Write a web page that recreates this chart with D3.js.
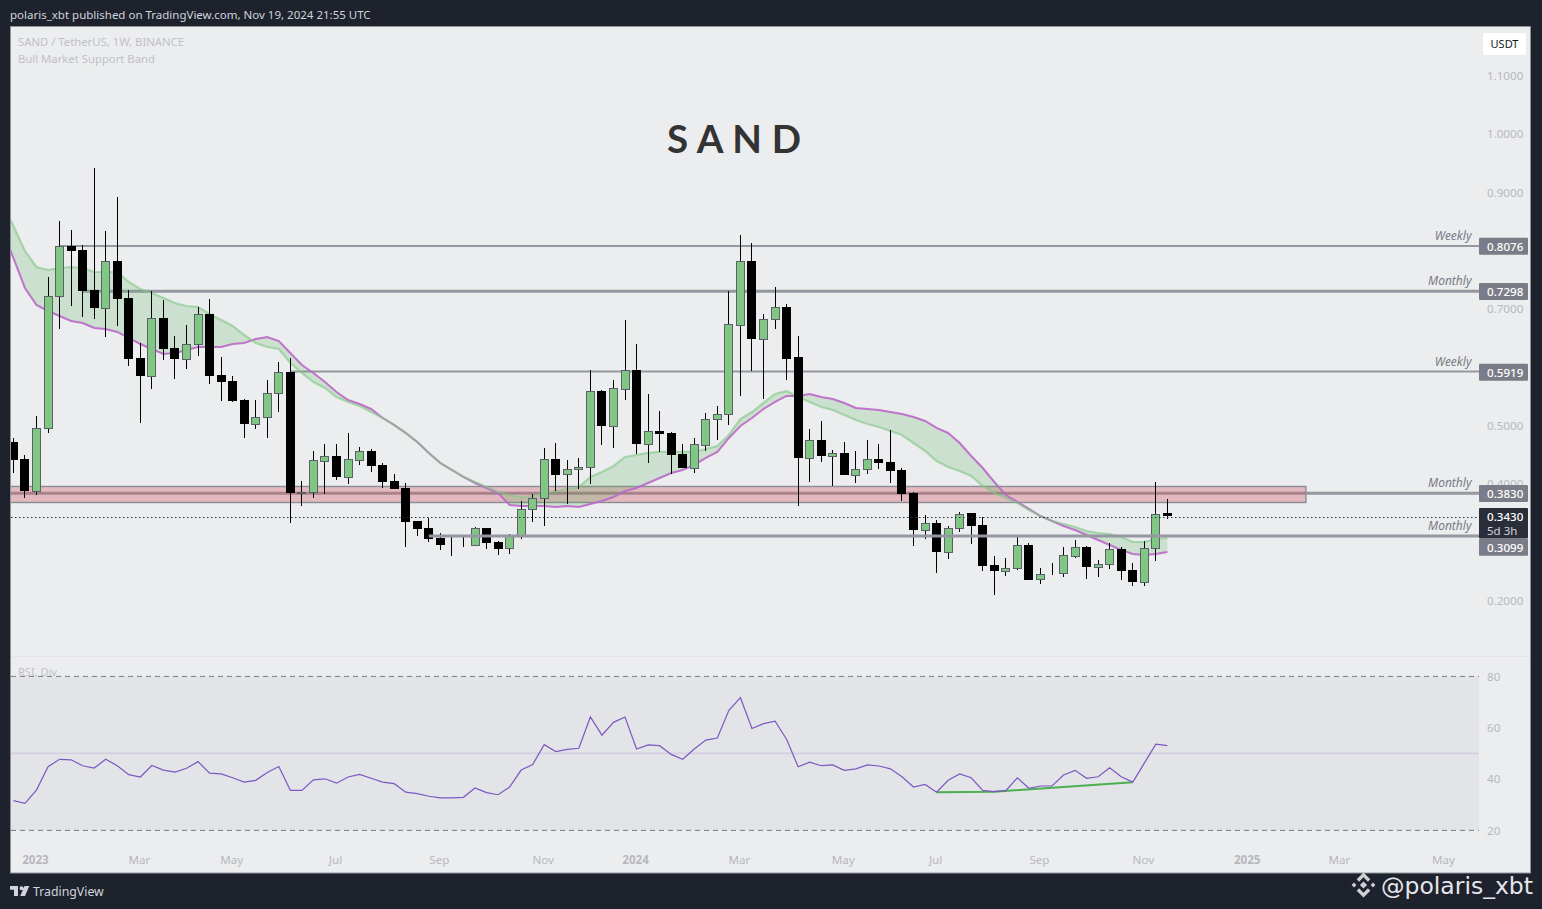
<!DOCTYPE html>
<html>
<head>
<meta charset="utf-8">
<title>SAND / TetherUS</title>
<script src="https://cdn.jsdelivr.net/npm/d3@7"></script>
<style>
  html, body { margin: 0; padding: 0; background: #1e222d; overflow: hidden; }
  svg { display: block; }
  text { font-family: "Noto Sans", sans-serif; }
</style>
</head>
<body>
<div id="chart"></div>
<script>
// weekly candles, SAND/USDT
const candleOpen = [.4711,.4420,.3870,.4952,.7217,.8075,.8006,.7320,.7011,.7817,
  .7182,.6153,.5844,.6839,.6324,.6136,.6393,.6908,.5861,.5758,
  .5432,.5020,.5140,.5552,.5912,.3836,.3853,.4385,.4471,.4111,
  .4402,.4557,.4317,.4042,.3922,.3356,.3236,.3064,.2961,.2961,
  .2944,.3236,.2995,.2892,.3098,.3562,.3750,.4420,.4162,.4248,
  .4282,.5586,.4986,.5621,.5947,.4677,.4900,.4866,.4505,.4265,
  .4660,.5106,.5192,.6719,.7817,.6479,.6822,.7028,.6170,.4437,
  .4746,.4471,.4523,.4145,.4248,.4420,.4368,.4231,.3836,.3201,
  .3321,.2824,.3236,.3493,.3287,.2601,.2498,.2549,.2944,.2360,
  .2463,.2463,.2755,.2909,.2566,.2618,.2875,.2515,.2309,.2892,
  .3493];
const candleClose = [.4402,.3870,.4952,.7217,.8075,.7989,.7302,.7011,.7817,.7165,
  .6136,.5844,.6839,.6307,.6136,.6393,.6908,.5844,.5741,.5415,
  .5020,.5140,.5552,.5912,.3836,.3853,.4402,.4471,.4111,.4420,
  .4557,.4299,.4025,.3905,.3338,.3218,.3047,.2944,.2961,.2961,
  .3236,.2978,.2875,.3098,.3562,.3750,.4420,.4145,.4248,.4282,
  .5586,.4986,.5638,.5947,.4677,.4900,.4849,.4488,.4265,.4677,
  .5106,.5192,.6736,.7817,.6479,.6822,.7028,.6136,.4437,.4746,
  .4471,.4523,.4145,.4248,.4420,.4351,.4214,.3819,.3201,.3321,
  .2824,.3236,.3476,.3270,.2583,.2498,.2549,.2944,.2343,.2446,
  .2463,.2772,.2909,.2566,.2618,.2875,.2498,.2309,.2892,.3476,
  .3441];
const candleHigh = [.4780,.4488,.5157,.7543,.8504,.8349,.8092,.9413,.8332,.8915,
  .7320,.6410,.7302,.7148,.6530,.6719,.7028,.7165,.6170,.5844,
  .5449,.5432,.5775,.6084,.6153,.4042,.4557,.4677,.4677,.4866,
  .4625,.4591,.4351,.4162,.4008,.3356,.3407,.3150,.3115,.3081,
  .3253,.3236,.3012,.3133,.3699,.3819,.4608,.4694,.4402,.4437,
  .5947,.5604,.5775,.6805,.6393,.5535,.5243,.4883,.4677,.4780,
  .5209,.5329,.7302,.8263,.8126,.6908,.7371,.7079,.6530,.4934,
  .5072,.4574,.4711,.4557,.4746,.4677,.4917,.4265,.3853,.3459,
  .3373,.3270,.3510,.3493,.3424,.2755,.2721,.3098,.2978,.2549,
  .2635,.2909,.3030,.2927,.2686,.2978,.2909,.2635,.3012,.4025,
  .3733];
const candleLow = [.4179,.3750,.3802,.4866,.6650,.7045,.6856,.6822,.6513,.6702,
  .6015,.5037,.5621,.6118,.5792,.5964,.6187,.5707,.5415,.5398,
  .4780,.4934,.4780,.5226,.3321,.3613,.3750,.3819,.4059,.3991,
  .4317,.4196,.3922,.3905,.2909,.3098,.2995,.2858,.2755,.2909,
  .2944,.2875,.2772,.2789,.3047,.3338,.3270,.3870,.3647,.3905,
  .3991,.4660,.4608,.5432,.4505,.4351,.4540,.4162,.4265,.4179,
  .4557,.4746,.5003,.5501,.5930,.5449,.6650,.5775,.3613,.4025,
  .4368,.3956,.4145,.4008,.4162,.4248,.4008,.3699,.2927,.3047,
  .2463,.2704,.3167,.2961,.2498,.2086,.2412,.2515,.2343,.2275,
  .2429,.2395,.2721,.2360,.2395,.2532,.2343,.2240,.2240,.2669,
  .3390];

// Bull Market Support Band, first value is the week before the first visible candle
const bandStart = -1;
const bandUpper = [.8830,.8418,.7989,.7714,.7663,.7697,.7714,.7697,.7628,.7628,.7628,
  .7457,.7337,.7268,.7182,.7097,.7045,.7028,.6908,.6805,.6702,
  .6547,.6410,.6341,.6307,.6067,.5895,.5741,.5638,.5483,.5398,
  .5329,.5226,.5123,.5003,.4866,.4711,.4523,.4351,.4231,.4111,
  .4025,.3939,.3853,.3802,.3767,.3785,.3836,.3870,.3905,.3939,
  .4111,.4196,.4299,.4454,.4488,.4523,.4540,.4540,.4540,.4540,
  .4591,.4643,.4831,.5106,.5226,.5381,.5535,.5586,.5483,.5398,
  .5312,.5260,.5175,.5089,.5020,.4969,.4900,.4831,.4694,.4557,
  .4385,.4282,.4214,.4128,.3956,.3836,.3750,.3665,.3544,.3441,
  .3356,.3304,.3253,.3184,.3150,.3133,.3081,.2995,.2995,.3047,
  .3064];
const bandLower = [.8384,.7869,.7354,.7062,.6959,.6873,.6788,.6753,.6668,.6650,.6599,
  .6496,.6393,.6307,.6221,.6239,.6290,.6341,.6341,.6341,.6393,
  .6410,.6479,.6513,.6444,.6239,.6033,.5895,.5741,.5569,.5432,
  .5363,.5278,.5123,.5003,.4866,.4711,.4523,.4351,.4231,.4111,
  .4008,.3922,.3836,.3630,.3613,.3613,.3613,.3596,.3613,.3596,
  .3647,.3699,.3767,.3870,.3922,.4008,.4094,.4179,.4231,.4317,
  .4437,.4540,.4780,.4986,.5123,.5278,.5398,.5501,.5501,.5535,
  .5483,.5449,.5381,.5295,.5278,.5260,.5226,.5192,.5140,.5072,
  .4952,.4866,.4694,.4471,.4265,.4025,.3802,.3682,.3562,.3441,
  .3356,.3270,.3201,.3115,.3030,.2944,.2858,.2789,.2772,.2789,
  .2824];

const rsiValues = [31.6,30.5,35.7,44.8,47.7,47.5,45.2,44.3,47.7,45.2,
  41.7,40.8,45.3,43.5,42.7,44.2,46.8,42.3,42.0,40.5,
  38.8,39.5,42.6,44.9,35.6,35.6,39.7,40.1,38.4,40.8,
  41.8,40.3,38.8,38.2,34.9,34.3,33.3,32.7,32.7,32.9,
  36.5,34.7,33.9,36.9,43.5,45.7,53.4,50.7,51.6,52.0,
  64.2,57.1,62.1,64.2,51.7,53.3,53.0,49.6,47.7,51.7,
  55.2,56.0,66.8,71.7,59.7,61.6,62.6,55.5,44.8,46.6,
  45.2,45.5,43.4,44.0,45.5,45.1,44.0,40.9,36.9,37.9,
  34.9,39.5,42.0,40.5,35.6,35.1,35.5,40.5,36.4,37.3,
  37.3,41.6,43.4,40.3,40.9,44.4,40.9,38.8,46.2,53.6,
  53.0];
const divergenceWeeks = [80, 85, 97];
const divergenceValues = [34.9, 35.1, 38.8];

const priceTicks = [1.1, 1.0, 0.9, 0.7, 0.6, 0.5, 0.4, 0.2];
const rsiTicks = [80, 60, 40, 20];
const rsiLevels = [80, 50, 20];
const monthWeeks = [2, 11, 19, 28, 37, 46, 54, 63, 72, 80, 89, 98, 107, 115, 124];
const monthLabels = ["2023", "Mar", "May", "Jul", "Sep", "Nov", "2024", "Mar", "May", "Jul", "Sep", "Nov", "2025", "Mar", "May"];

// drawn levels: value, first week of the line, note
const levelValues = [0.8076, 0.7298, 0.5919, 0.3830, 0.3099];
const levelStart = [4, 6, 24, -1, 36];
const levelNotes = ["Weekly", "Monthly", "Weekly", "Monthly", "Monthly"];
const zoneTop = 0.3948, zoneBottom = 0.3673;
const zoneEndWeek = 112;
const lastPrice = 0.3430;

const W = 1542, H = 909;
const paneLeft = 11, paneRight = 1531, paneTop = 27, paneBottom = 873, axisX = 1479;

const svg = d3.select("#chart").append("svg").attr("width", W).attr("height", H);

const x = d3.scaleLinear().domain([0, 100]).range([13.4, 1167.4]);
const y = d3.scaleLinear().domain([0.2, 1.1]).range([600, 75.5]);
const yRsi = d3.scaleLinear().domain([20, 80]).range([830.4, 676.4]);
const cx = i => Math.floor(x(i)) + 0.5;

// background
svg.append("rect").attr("x", 0).attr("y", 0).attr("width", W).attr("height", H).attr("fill", "#1e222d");
svg.append("rect")
  .attr("x", paneLeft - 0.5).attr("y", paneTop - 0.5)
  .attr("width", paneRight - paneLeft).attr("height", paneBottom - paneTop + 0.5)
  .attr("fill", "#ecedef").attr("stroke", "#8f929a").attr("stroke-width", 1);

svg.append("defs").append("clipPath").attr("id", "plot")
  .append("rect").attr("x", paneLeft).attr("y", paneTop).attr("width", axisX - paneLeft).attr("height", paneBottom - paneTop);

// pane separator
svg.append("line").attr("x1", paneLeft).attr("x2", paneRight - 1).attr("y1", 656.5).attr("y2", 656.5)
  .attr("stroke", "#e4e3ee");

const plot = svg.append("g").attr("clip-path", "url(#plot)");

// levels under everything else, the last one goes above the candles
const levelWidth = [2, 3, 2, 3, 3];
function drawLevel(g, k) {
  g.append("line")
    .attr("x1", k === 3 ? paneLeft : x(levelStart[k])).attr("x2", axisX)
    .attr("y1", y(levelValues[k])).attr("y2", y(levelValues[k]))
    .attr("stroke", "#9598a1").attr("stroke-width", levelWidth[k]);
}
[0, 1, 2, 3].forEach(k => drawLevel(plot, k));

// red zone
plot.append("rect")
  .attr("x", paneLeft - 2).attr("width", x(zoneEndWeek) - paneLeft + 2)
  .attr("y", y(zoneTop)).attr("height", y(zoneBottom) - y(zoneTop))
  .attr("fill", "rgba(205,90,100,0.35)").attr("stroke", "#8a8d96").attr("stroke-width", 1.4);

// support band
const bandWeek = (d, i) => x(i + bandStart);
plot.append("path").datum(bandUpper)
  .attr("d", d3.area().x(bandWeek).y1(d => y(d)).y0((d, i) => y(bandLower[i])))
  .attr("fill", "rgba(76,175,80,0.2)");
plot.append("path").datum(bandLower)
  .attr("d", d3.line().x(bandWeek).y(d => y(d)))
  .attr("fill", "none").attr("stroke", "#ba68c8").attr("stroke-opacity", 0.9).attr("stroke-width", 2);
plot.append("path").datum(bandUpper)
  .attr("d", d3.line().x(bandWeek).y(d => y(d)))
  .attr("fill", "none").attr("stroke", "#81c784").attr("stroke-opacity", 0.6).attr("stroke-width", 2.2);

// candles
const weeks = d3.range(candleOpen.length);
const isUp = i => candleClose[i] >= candleOpen[i];
plot.append("g").selectAll("line").data(weeks).join("line")
  .attr("x1", cx).attr("x2", cx)
  .attr("y1", i => Math.round(y(candleHigh[i]))).attr("y2", i => Math.round(y(candleLow[i])))
  .attr("stroke", "#000").attr("stroke-width", 1);
plot.append("g").selectAll("rect").data(weeks).join("rect")
  .attr("x", i => isUp(i) ? cx(i) - 4 : cx(i) - 4.5)
  .attr("width", i => isUp(i) ? 8 : 9)
  .attr("y", i => {
    const t = Math.round(y(Math.max(candleOpen[i], candleClose[i])));
    return isUp(i) ? t + 0.5 : t;
  })
  .attr("height", i => {
    const t = Math.round(y(Math.max(candleOpen[i], candleClose[i])));
    const b = Math.round(y(Math.min(candleOpen[i], candleClose[i])));
    return Math.max(0, b - t);
  })
  .attr("fill", i => isUp(i) ? "#81c784" : "#000")
  .attr("stroke", i => isUp(i) ? "#5d606b" : "none")
  .attr("stroke-width", 1);

drawLevel(plot, 4);

// last price line
plot.append("line").attr("x1", paneLeft).attr("x2", axisX)
  .attr("y1", Math.round(y(lastPrice)) + 0.5).attr("y2", Math.round(y(lastPrice)) + 0.5)
  .attr("stroke", "#2a2e39").attr("stroke-width", 1).attr("stroke-dasharray", "1.5 2.5");

// level notes
svg.append("g").selectAll("text").data(levelValues).join("text")
  .attr("x", 1471.5)
  .attr("y", v => y(v) - 6)
  .attr("text-anchor", "end")
  .attr("font-size", 12).attr("font-style", "italic").attr("fill", "#787b86")
  .text((v, k) => levelNotes[k]);

// RSI pane
plot.append("rect").attr("x", paneLeft).attr("width", axisX - paneLeft)
  .attr("y", yRsi(80)).attr("height", yRsi(20) - yRsi(80))
  .attr("fill", "rgba(120,123,134,0.08)");
plot.append("g").selectAll("line").data(rsiLevels).join("line")
  .attr("x1", paneLeft).attr("x2", axisX)
  .attr("y1", d => yRsi(d)).attr("y2", d => yRsi(d))
  .attr("stroke", d => d === 50 ? "rgba(126,87,194,0.14)" : "#787b86")
  .attr("stroke-width", d => d === 50 ? 1.6 : 1)
  .attr("stroke-dasharray", d => d === 50 ? null : "5 4");
plot.append("path").datum(divergenceValues)
  .attr("d", d3.line().x((d, i) => x(divergenceWeeks[i])).y(d => yRsi(d)))
  .attr("fill", "none").attr("stroke", "#4caf50").attr("stroke-width", 2);
plot.append("path").datum(rsiValues)
  .attr("d", d3.line().x((d, i) => x(i)).y(d => yRsi(d)))
  .attr("fill", "none").attr("stroke", "#7e57c2").attr("stroke-width", 1.2);

// axes
const axisText = "#b6b8be";
const priceAxis = svg.append("g").attr("transform", `translate(${axisX},0.5)`)
  .call(d3.axisRight(y).tickValues(priceTicks).tickFormat(d3.format(".4f")).tickSize(0).tickPadding(8));
const rsiAxis = svg.append("g").attr("transform", `translate(${axisX},0)`)
  .call(d3.axisRight(yRsi).tickValues(rsiTicks).tickSize(0).tickPadding(8));
const timeAxis = svg.append("g").attr("transform", "translate(-1.5,856)")
  .call(d3.axisBottom(x).tickValues(monthWeeks).tickFormat((d, i) => monthLabels[i]).tickSize(0).tickPadding(0));
[priceAxis, rsiAxis, timeAxis].forEach(a => {
  a.select(".domain").remove();
  a.selectAll("text").attr("fill", axisText).attr("font-size", 11.6).style("font-family", '"Noto Sans", sans-serif');
});
timeAxis.selectAll("text").filter((d, i) => /^20/.test(monthLabels[i])).attr("font-weight", 700);
timeAxis.selectAll("text").attr("dy", "0.71em");

// price labels on the axis
function priceLabel(cy, h, txt, fill) {
  svg.append("rect").attr("x", axisX).attr("y", cy - h / 2).attr("width", 49).attr("height", h).attr("rx", 1).attr("fill", fill);
  svg.append("text").attr("x", 1487).attr("y", cy + 4.3)
    .attr("font-size", 11.6).attr("font-weight", 500).attr("fill", "#fff").text(txt);
}
const levelLabelY = [y(levelValues[0]) + 0.3, y(levelValues[1]) + 0.3, y(levelValues[2]) + 0.6, y(levelValues[3]) + 0.2, 547.2];
levelValues.forEach((v, k) => priceLabel(levelLabelY[k], 17, d3.format(".4f")(v), "#7a7c88"));
svg.append("rect").attr("x", axisX).attr("y", 508).attr("width", 49).attr("height", 30.5).attr("rx", 1).attr("fill", "#2a2e39");
svg.append("text").attr("x", 1487).attr("y", 521).attr("font-size", 11.6).attr("font-weight", 500).attr("fill", "#fff").text(d3.format(".4f")(lastPrice));
svg.append("text").attr("x", 1487).attr("y", 534.5).attr("font-size", 11.5).attr("fill", "#d1d4dc").text("5d 3h");

// currency button
svg.append("rect").attr("x", 1483).attr("y", 33).attr("width", 43).attr("height", 22).attr("rx", 3).attr("fill", "#fff");
svg.append("text").attr("x", 1504.5).attr("y", 48.3).attr("text-anchor", "middle").attr("font-size", 11).attr("fill", "#131722").text("USDT");

// header and legend
svg.append("text").attr("x", 10).attr("y", 18.5).attr("font-size", 11.5).attr("fill", "#d1d4dc")
  .text("polaris_xbt published on TradingView.com, Nov 19, 2024 21:55 UTC");
svg.append("text").attr("x", 18).attr("y", 46.3).attr("font-size", 11.3).attr("fill", "#bfc1c7")
  .text("SAND / TetherUS, 1W, BINANCE");
svg.append("text").attr("x", 18).attr("y", 63.3).attr("font-size", 11.3).attr("fill", "#bfc1c7")
  .text("Bull Market Support Band");
svg.append("text").attr("x", 18).attr("y", 676).attr("font-size", 11).attr("fill", "#bfc1c7")
  .text("RSI, Div");

// chart title
svg.append("text").attr("x", 667).attr("y", 152.5)
  .attr("font-size", 38.5).attr("font-weight", 700).attr("fill", "#333").attr("letter-spacing", "0.3px")
  .style("font-family", "Lato, sans-serif")
  .text("S A N D");

// TradingView mark and watermark
svg.append("path")
  .attr("d", "M10 886h8v10h-4v-6.2h-4z M21.5 886.2a2 2 0 1 1 0 4 2 2 0 0 1 0-4z M24.5 886h4.8l-4.3 10h-4.8z")
  .attr("fill", "#d1d4dc");
svg.append("text").attr("x", 33).attr("y", 896).attr("font-size", 12.3).attr("fill", "#d1d4dc").text("TradingView");
svg.append("text").attr("x", 1381).attr("y", 894).attr("font-size", 23.5).attr("fill", "#e6e7ea")
  .style("font-family", '"DejaVu Sans", sans-serif').text("@polaris_xbt");
svg.append("path")
  .attr("transform", "translate(1363.5,885)")
  .attr("d", "M0 -3.6L3.6 0L0 3.6L-3.6 0Z M-9.5 -2.4L-7.1 0L-9.5 2.4L-11.9 0Z M9.5 -2.4L11.9 0L9.5 2.4L7.1 0Z M0 -12.5L6.8 -5.7L4.4 -3.3L0 -7.7L-4.4 -3.3L-6.8 -5.7Z M0 12.5L6.8 5.7L4.4 3.3L0 7.7L-4.4 3.3L-6.8 5.7Z")
  .attr("fill", "#cfd0d4");
</script>
</body>
</html>
